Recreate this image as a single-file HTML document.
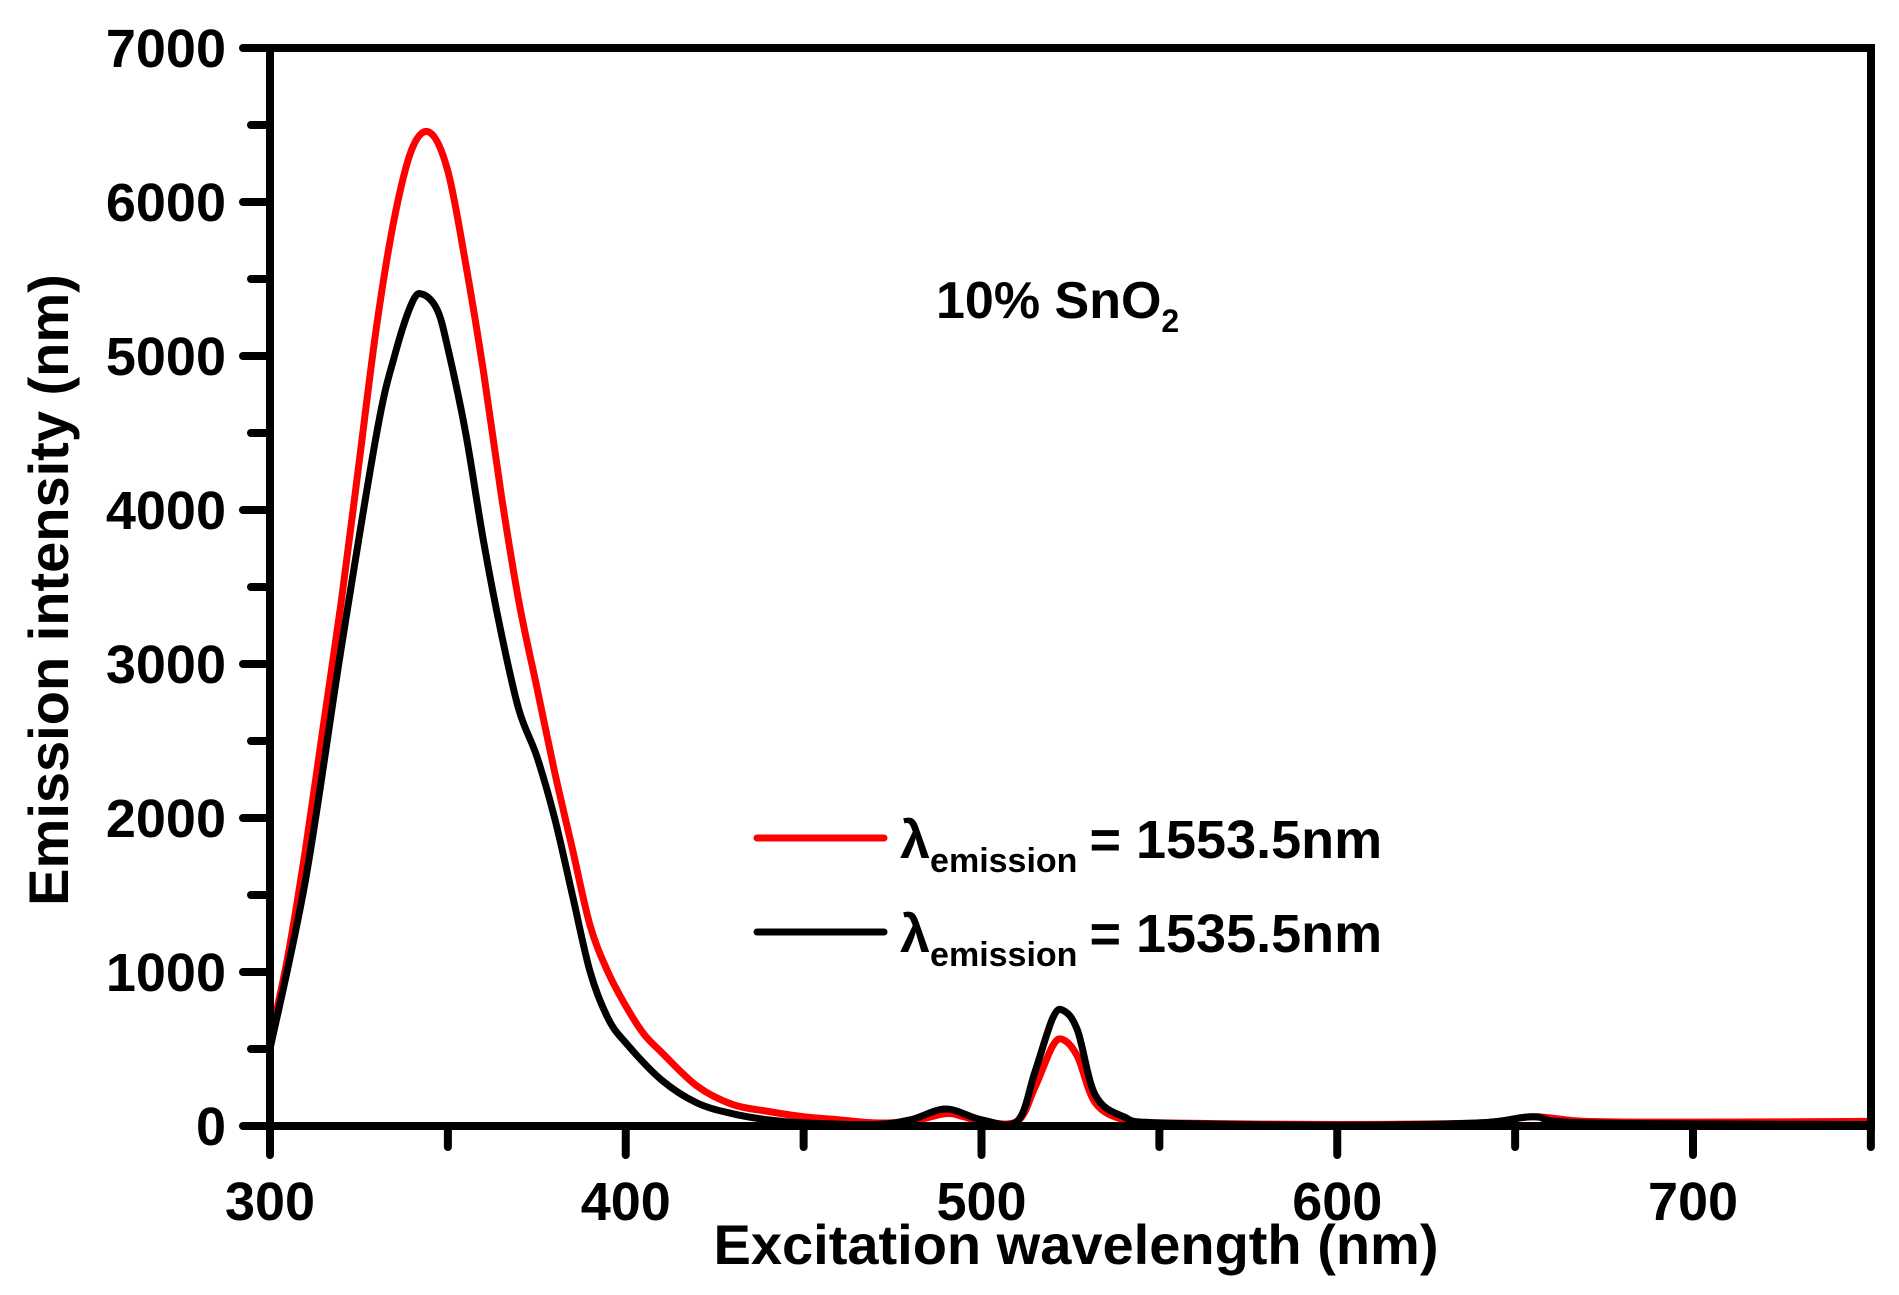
<!DOCTYPE html>
<html><head><meta charset="utf-8"><style>
html,body{margin:0;padding:0;background:#fff}
svg{display:block}
text{font-family:"Liberation Sans",Arial,sans-serif;font-weight:bold;fill:#000}
</style></head><body>
<svg id="s" width="1899" height="1295" viewBox="0 0 1899 1295" xmlns="http://www.w3.org/2000/svg">
<g id="curves" fill="none" stroke-width="7" stroke-linejoin="round" stroke-linecap="round"></g>
<rect x="270" y="48" width="1601" height="1078" fill="none" stroke="#000" stroke-width="8"/>
<g id="ticks" stroke="#000" stroke-width="8" stroke-linecap="round"></g>
<g font-size="54" text-anchor="end" id="ylab"></g>
<g font-size="54" text-anchor="middle" id="xlab"></g>
<text x="1076" y="1264" font-size="56" text-anchor="middle">Excitation wavelength (nm)</text>
<text transform="translate(68,590) rotate(-90)" font-size="56" text-anchor="middle">Emission intensity (nm)</text>
<text x="936" y="318" font-size="52">10% SnO<tspan font-size="32" dy="14">2</tspan></text>
<line x1="757" y1="838" x2="884" y2="838" stroke="#f00" stroke-width="7" stroke-linecap="round"/>
<line x1="757" y1="932" x2="884" y2="932" stroke="#000" stroke-width="7" stroke-linecap="round"/>
<text x="900" y="858" font-size="54">λ<tspan font-size="34" dy="14">emission</tspan><tspan dy="-14" dx="12">= 1553.5nm</tspan></text>
<text x="900" y="952" font-size="54">λ<tspan font-size="34" dy="14">emission</tspan><tspan dy="-14" dx="12">= 1535.5nm</tspan></text>
</svg>
<script>
var NS="http://www.w3.org/2000/svg";
function X(l){return 270+(l-300)*3.5575}
function Y(v){return 1126-v*0.154}
function el(p,t,a){var e=document.createElementNS(NS,t);for(var k in a)e.setAttribute(k,a[k]);p.appendChild(e);return e}
var tk=document.getElementById('ticks');
for(var v=0;v<=7000;v+=500){var maj=v%1000==0;el(tk,'line',{x1:270,x2:maj?243:251,y1:Y(v),y2:Y(v)});
 if(maj){var t=el(document.getElementById('ylab'),'text',{x:226,y:Y(v)+19});t.textContent=v;}}
for(var l=300;l<=750;l+=50){var maj=l%100==0;el(tk,'line',{x1:X(l),x2:X(l),y1:1126,y2:maj?1155:1147});
 if(maj){var t=el(document.getElementById('xlab'),'text',{x:X(l),y:1220});t.textContent=l;}}
var red=[[300,550],[305,1100],[310,1800],[315,2600],[320,3400],[325,4300],[330,5200],[335,5900],[340,6350],[345,6450],[350,6200],[355,5600],[360,4900],[365,4100],[370,3400],[375,2850],[380,2300],[385,1800],[390,1300],[395,1000],[400,780],[405,600],[410,480],[420,260],[430,140],[440,95],[450,60],[460,40],[470,20],[480,30],[490,80],[495,60],[500,30],[510,30],[515,250],[520,520],[523,560],[527,450],[532,150],[540,40],[550,20],[600,10],[640,20],[655,60],[670,30],[700,25],[750,30]];
var blk=[[300,500],[310,1600],[320,3100],[330,4500],[335,5000],[340,5350],[343,5400],[347,5300],[350,5050],[355,4500],[360,3800],[365,3200],[370,2700],[375,2400],[380,2000],[385,1500],[390,1000],[395,700],[400,540],[410,300],[420,150],[430,80],[440,40],[450,20],[470,10],[480,40],[490,110],[500,40],[510,30],[515,350],[520,700],[523,750],[527,620],[532,200],[540,60],[550,20],[600,5],[640,20],[655,60],[670,20],[750,10]];
function path(d){var s='M'+X(d[0][0])+','+Y(d[0][1]);
 for(var i=0;i<d.length-1;i++){var p0=d[Math.max(i-1,0)],p1=d[i],p2=d[i+1],p3=d[Math.min(i+2,d.length-1)];
  var c1x=X(p1[0])+(X(p2[0])-X(p0[0]))/6,c1y=Y(p1[1])+(Y(p2[1])-Y(p0[1]))/6;
  var c2x=X(p2[0])-(X(p3[0])-X(p1[0]))/6,c2y=Y(p2[1])-(Y(p3[1])-Y(p1[1]))/6;
  s+=' C'+c1x+','+c1y+' '+c2x+','+c2y+' '+X(p2[0])+','+Y(p2[1]);}
 return s;}
var g=document.getElementById('curves');
el(g,'path',{d:path(red),stroke:'#f00'});
el(g,'path',{d:path(blk),stroke:'#000'});
</script>
</body></html>
